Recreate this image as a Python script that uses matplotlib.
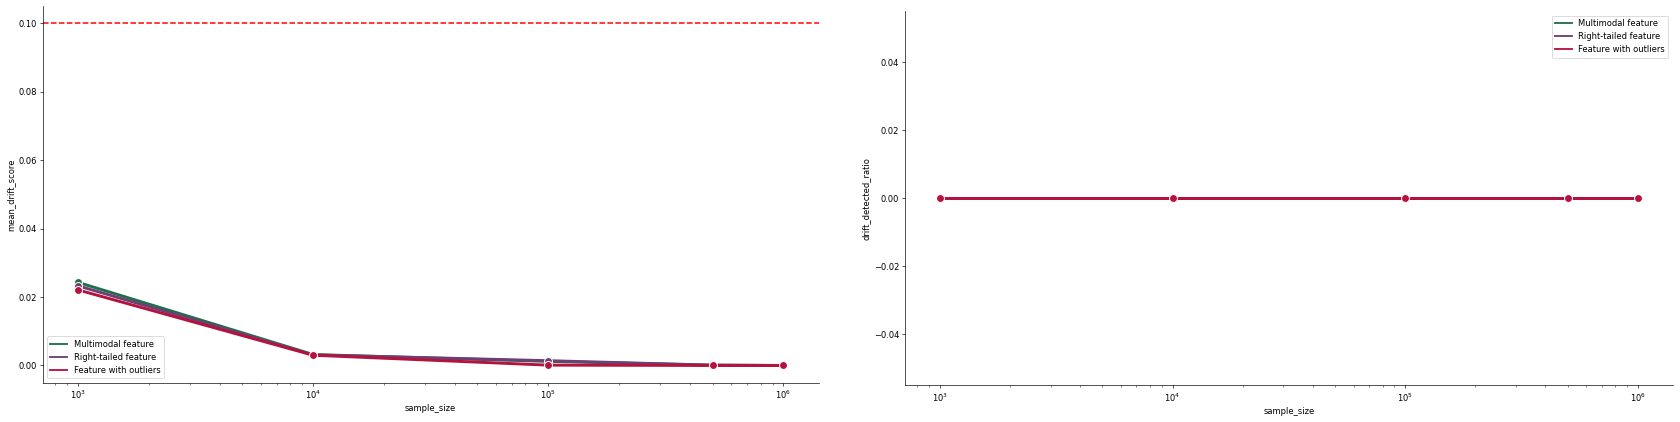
import matplotlib
matplotlib.use("Agg")
import matplotlib.pyplot as plt
from matplotlib.lines import Line2D

# ---- data ----
sample_sizes = [1000, 10000, 100000, 500000, 1000000]
series_names = ["Multimodal feature", "Right-tailed feature", "Feature with outliers"]
mean_drift_multimodal = [0.0243, 0.0032, 0.0012, 0.0001, 0.0000]
mean_drift_right_tailed = [0.0233, 0.0031, 0.0014, 0.0001, 0.0000]
mean_drift_outliers = [0.0221, 0.0030, 0.0001, 0.0000, 0.0000]
ratio_multimodal = [0.0, 0.0, 0.0, 0.0, 0.0]
ratio_right_tailed = [0.0, 0.0, 0.0, 0.0, 0.0]
ratio_outliers = [0.0, 0.0, 0.0, 0.0, 0.0]
threshold = 0.1

colors = ["#1f6f4a", "#6e3f73", "#b5123e"]

fig = plt.figure(figsize=(28, 422 / 60), dpi=60)
ax1 = fig.add_axes([0.0254, 0.0934, 0.4619, 0.8917])
ax2 = fig.add_axes([0.5387, 0.0865, 0.4569, 0.8863])

def draw(ax, ys):
    for y, c, n in zip(ys, colors, series_names):
        ax.plot(sample_sizes, y, color=c, lw=3.5, marker="o", ms=9.5,
                mfc=c, mec="white", mew=1.2, label=n)
    ax.set_xscale("log")
    for s in ["top", "right"]:
        ax.spines[s].set_visible(False)
    ax.set_xlabel("sample_size")
    handles = [Line2D([], [], color=c, lw=2.2) for c in colors]
    return handles

h = draw(ax1, [mean_drift_multimodal, mean_drift_right_tailed, mean_drift_outliers])
ax1.axhline(threshold, color="red", ls="--", lw=1.8)
ax1.set_ylabel("mean_drift_score")
ax1.set_yticks([0.0, 0.02, 0.04, 0.06, 0.08, 0.10])
ax1.legend(h, series_names, loc="lower left")

h = draw(ax2, [ratio_multimodal, ratio_right_tailed, ratio_outliers])
ax2.set_ylabel("drift_detected_ratio")
ax2.legend(h, series_names, loc="upper right")

fig.savefig("out.png", dpi=60)
